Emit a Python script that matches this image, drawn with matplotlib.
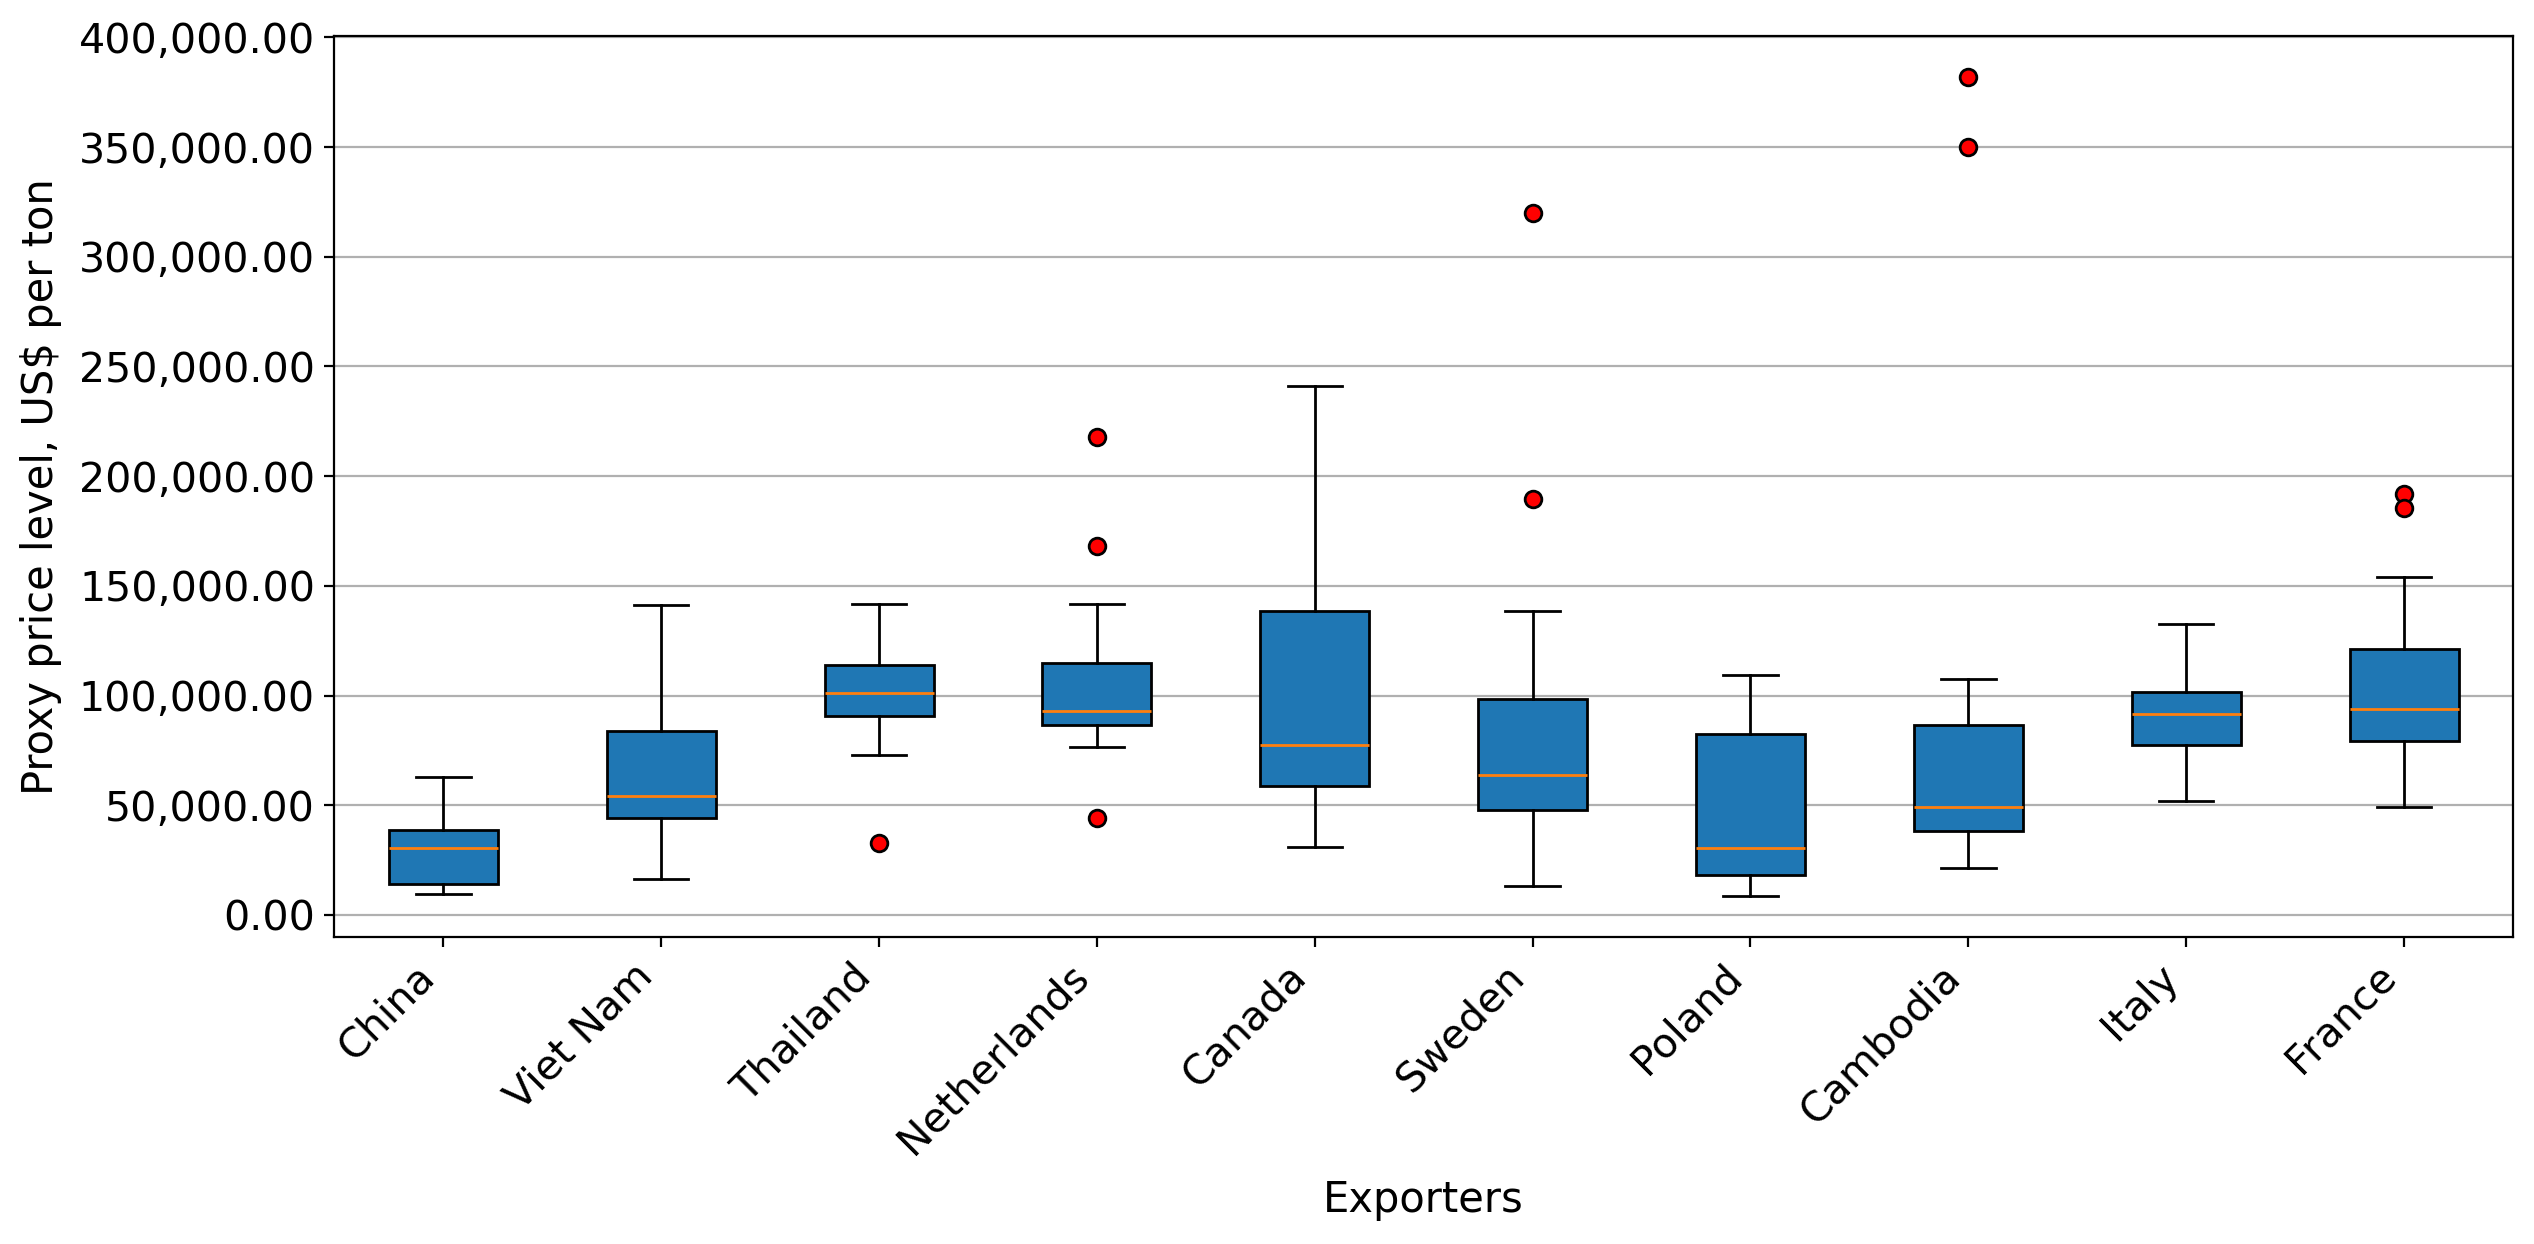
import matplotlib
matplotlib.use('Agg')
from matplotlib import pyplot as plt
from matplotlib.ticker import StrMethodFormatter

# Box statistics (US$ per ton)
exporters = ['China', 'Viet Nam', 'Thailand', 'Netherlands', 'Canada',
             'Sweden', 'Poland', 'Cambodia', 'Italy', 'France']
whisLow = [9600, 16500, 72800, 76500, 31200, 13100, 8800, 21600, 52000, 49300]
q1s = [14100, 44300, 90900, 86400, 58900, 48000, 18400, 38400, 77300, 79200]
medians = [30700, 54100, 101100, 92800, 77600, 63700, 30700, 49300, 91500, 94100]
q3s = [38700, 83700, 113900, 114700, 138700, 98700, 82400, 86400, 101600, 121100]
whisHigh = [62900, 141300, 141900, 141600, 241100, 138400, 109300, 107500, 132800, 153900]
outliers = [[], [], [32800], [217900, 168000, 44300], [], [320000, 189600],
            [], [381900, 349900], [], [192000, 185300]]


def buildStats():
    #Build the list of dicts that Axes.bxp expects
    stats = []
    for i, name in enumerate(exporters):
        stats.append({
            'label': name,
            'whislo': whisLow[i],
            'q1': q1s[i],
            'med': medians[i],
            'q3': q3s[i],
            'whishi': whisHigh[i],
            'fliers': outliers[i],
        })
    return stats


fig = plt.figure(figsize=(12.67, 6.22), dpi=200)
ax = fig.add_axes([0.132, 0.247, 0.8597, 0.724])

ax.bxp(buildStats(), widths=0.5, patch_artist=True,
       boxprops=dict(facecolor='#1f77b4', edgecolor='black'),
       medianprops=dict(color='#ff7f0e'),
       flierprops=dict(marker='o', markerfacecolor='red', markeredgecolor='black'))

ax.yaxis.grid(True, color='#b0b0b0')
ax.set_axisbelow(True)
ax.yaxis.set_major_formatter(StrMethodFormatter('{x:,.2f}'))
ax.set_xticklabels(exporters, rotation=45, ha='right')
ax.tick_params(axis='both', which='major', labelsize=14.8)
ax.set_xlabel('Exporters', fontsize=15, labelpad=6)
ax.set_ylabel('Proxy price level, US$ per ton', fontsize=15, labelpad=6)

fig.savefig('out.png', dpi=200)
